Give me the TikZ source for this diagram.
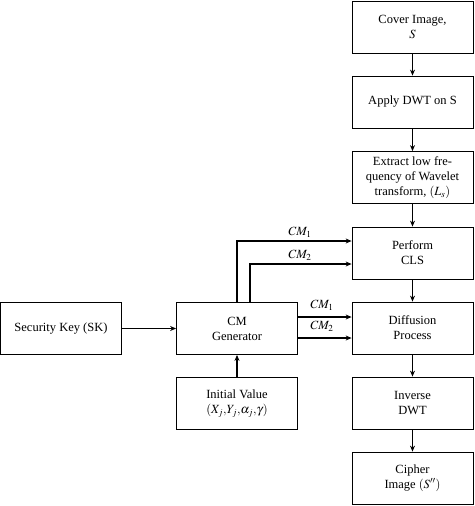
\documentclass[tikz,border=0pt]{standalone}
\usepackage{mathptmx}
\usepackage{fontspec}
\setmainfont{Liberation Serif}
\usetikzlibrary{arrows.meta}
\begin{document}
\begin{tikzpicture}[x=1pt,y=-1pt,
  box/.style={draw, line width=0.8pt, minimum width=121pt, minimum height=52pt, align=center, inner sep=1pt,
    font=\fontsize{12.5}{15}\selectfont},
  arr/.style={line width=1.3pt, -{Stealth[length=6pt,width=5pt]}},
  lbl/.style={font=\fontsize{12.5}{15}\selectfont, inner sep=0pt}]
\useasboundingbox (0,0) rectangle (474,506);
\node[box] (cover) at (412.5,27) {Cover Image,\\$S$};
\node[box] (dwt) at (412.5,102) {Apply DWT on S};
\node[box] (ext) at (412.5,177.5) {Extract low fre-\\quency of Wavelet\\transform, $(L_s)$};
\node[box] (cls) at (412.5,253) {Perform\\CLS};
\node[box] (diff) at (412.5,328) {Diffusion\\Process};
\node[box] (inv) at (412.5,403) {Inverse\\DWT};
\node[box] (ciph) at (412.5,478) {Cipher\\Image $(S'')$};
\node[box] (sk) at (61,328.5) {Security Key (SK)};
\node[box] (cm) at (237,328.5) {CM\\Generator};
\node[box] (iv) at (237,403.5) {Initial Value\\$(X_j{,}Y_j{,}\alpha_j{,}\gamma)$};
\draw[arr] (cover) -- (dwt);
\draw[arr] (dwt) -- (ext);
\draw[arr] (ext) -- (cls);
\draw[arr] (cls) -- (diff);
\draw[arr] (diff) -- (inv);
\draw[arr] (inv) -- (ciph);
\draw[arr] (sk) -- (cm);
\draw[arr] (iv) -- (cm);
\draw[arr] (cm.north) |- ([yshift=12pt]cls.west);
\draw[arr] ([xshift=13pt]cm.north) |- ([yshift=-11pt]cls.west);
\draw[arr] ([yshift=11.5pt]cm.east) -- ([yshift=11pt]diff.west);
\draw[arr] ([yshift=-9.5pt]cm.east) -- ([yshift=-10pt]diff.west);
\node[lbl] (l1) at (300,232) {$CM_1$};
\node[lbl] (l2) at (300,255) {$CM_2$};
\node[lbl] (l3) at (322,305) {$CM_1$};
\node[lbl] (l4) at (322,326) {$CM_2$};
\end{tikzpicture}
\end{document}
